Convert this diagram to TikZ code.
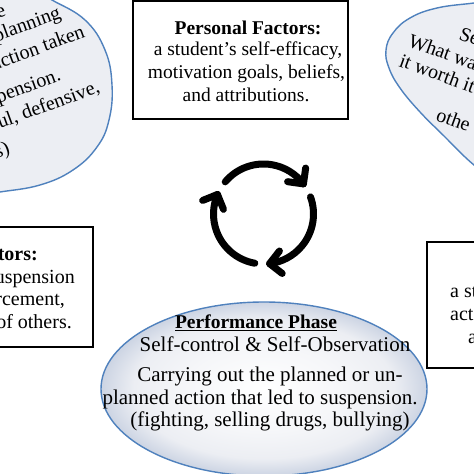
\documentclass[tikz,border=0pt]{standalone}
\usepackage{fontspec}
\setmainfont{Liberation Serif}
\usetikzlibrary{calc,shapes.geometric}
\definecolor{ellborder}{RGB}{79,129,189}
\definecolor{ellfill}{RGB}{236,238,243}
\definecolor{elledge}{RGB}{204,212,227}
\pgfdeclareradialshading{ellshade}{\pgfpoint{0bp}{0bp}}{color(0bp)=(white); color(12bp)=(white!50!ellfill); color(20bp)=(ellfill); color(25bp)=(elledge); color(50bp)=(elledge)}
\begin{document}
\begin{tikzpicture}[x=1pt,y=1pt,
  txt/.style={inner sep=0pt, font=\fontsize{20}{22.5}\selectfont},
  btxt/.style={inner sep=0pt, font=\bfseries\fontsize{20}{22.5}\selectfont},
  ptxt/.style={inner sep=0pt, font=\fontsize{19.5}{22.5}\selectfont},
  pbtxt/.style={inner sep=0pt, font=\bfseries\fontsize{19.5}{22.5}\selectfont},
  etxt/.style={inner sep=0pt, font=\fontsize{21}{23}\selectfont},
  fbox/.style={draw=black, line width=1.6pt, fill=white, inner sep=0pt},
  ellpath/.style={draw=ellborder, line width=1.4pt, fill=ellfill},
  cyc/.style={line width=7pt, line cap=round, line join=round}]
\useasboundingbox (0,0) rectangle (474,474);
\fill[white] (0,0) rectangle (474,474);
\begin{scope}
\clip (0,0) rectangle (474,474);
% top-left ellipse (forethought)
\path[ellpath] plot[smooth, tension=0.7] coordinates {(30,486) (52,474) (85,454) (105,424) (112,389) (109,354) (97,327) (73,304) (40,289) (0,282) (-20,279)} -- (-30,279) -- (-30,486) -- cycle;
\node[txt, rotate=20, anchor=base east] (fe1) at (7,459) {e};
\node[txt, rotate=20, anchor=base east] (fe2) at (62,456) {planning};
\node[txt, rotate=20, anchor=base east] (fe3) at (86,437) {action taken};
\node[txt, rotate=20, anchor=base east] (fe4) at (62,394) {pension.};
\node[txt, rotate=20, anchor=base east] (fe5) at (101,382) {ful, defensive,};
\node[txt, rotate=20, anchor=base east] (fe6) at (11,321) {s)};
% top-right ellipse (self-reflection)
\path[ellpath] plot[smooth, tension=0.7] coordinates {(495,474) (474,471) (437,466) (410,456) (393,441) (386,424) (389,406) (400,386) (420,362) (445,337) (465,317) (480,304) (495,292)} -- (500,292) -- (500,474) -- cycle;
\node[txt, rotate=-20, anchor=base west] (sr1) at (458,435) {Se};
\node[txt, rotate=-20, anchor=base west] (sr2) at (407,428) {What was};
\node[txt, rotate=-20, anchor=base west] (sr3) at (398,408) {it worth it?};
\node[txt, rotate=-20, anchor=base west] (sr4) at (435,354) {othe};
% top box: personal factors
\node[fbox, minimum width=215pt, minimum height=118pt] (pf) at (240.5,414) {};
\node[pbtxt, anchor=base] (pf1) at (248,439) {Personal Factors:};
\node[ptxt, anchor=base] (pf2) at (248,418) {a student’s self-efficacy,};
\node[ptxt, anchor=base] (pf3) at (246.5,395) {motivation goals, beliefs,};
\node[ptxt, anchor=base] (pf4) at (246,372) {and attributions.};
% left box: environmental factors
\node[fbox, minimum width=113pt, minimum height=120pt] (ef) at (36.5,187) {};
\node[btxt, anchor=base east] (ef1) at (38,213) {tors:};
\node[txt, anchor=base east] (ef2) at (75,190.5) {uspension};
\node[txt, anchor=base east] (ef3) at (65,168) {rcement,};
\node[txt, anchor=base east] (ef4) at (72,145.5) {of others.};
% right box: behavioural factors
\node[fbox, minimum width=60pt, minimum height=126pt] (bf) at (457,169) {};
\node[txt, anchor=base west] (bf1) at (450,176) {a st};
\node[txt, anchor=base west] (bf2) at (450,153) {act};
\node[txt, anchor=base west] (bf3) at (468,130) {a};
% bottom ellipse: performance phase
\node[ellipse, draw=ellborder, line width=1.4pt, shade, shading=ellshade, minimum width=326pt, minimum height=174pt, inner sep=0pt] (perf) at (264,85) {};
\node[pbtxt, anchor=base] (pp1) at (256,145) {\underline{Performance Phase}};
\node[etxt, anchor=base] (pp2) at (275,122) {Self-control \& Self-Observation};
\node[etxt, anchor=base] (pp3) at (270,92) {Carrying out the planned or un-};
\node[etxt, anchor=base] (pp4) at (260,69) {planned action that led to suspension.};
\node[etxt, anchor=base] (pp5) at (270,47) {(fighting, selling drugs, bullying)};
% cycle arrows
\coordinate (cc) at (263.5,260);
\foreach \sa/\ea/\aa/\ab in {140/37/82/172, 20/-83/-38/52, -100/-203/-158/-68} {
  \draw[cyc] ($(cc)+(\sa:50)$) arc[start angle=\sa, end angle=\ea, radius=50];
  \coordinate (tip) at ($(cc)+(\ea:50)$);
  \draw[cyc] ($(tip)+(\aa:16)$) -- (tip) -- ($(tip)+(\ab:16)$);
}
\end{scope}
\end{tikzpicture}
\end{document}
